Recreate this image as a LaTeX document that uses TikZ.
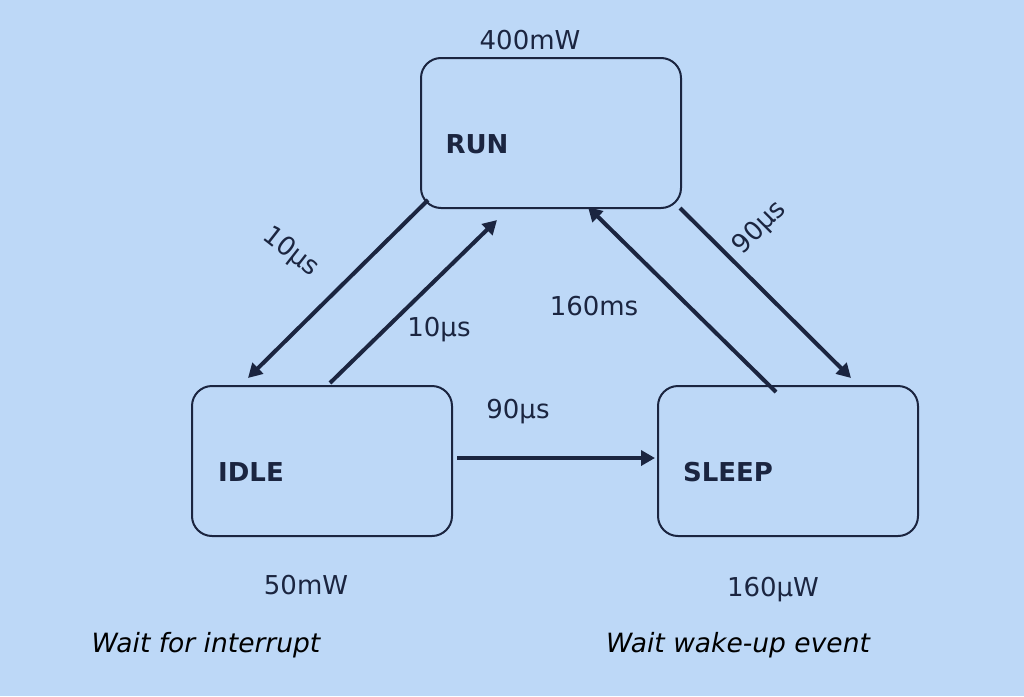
\documentclass[tikz,border=0pt]{standalone}
\usepackage{fontspec}
\setmainfont{DejaVu Sans}
\usetikzlibrary{arrows.meta}
\definecolor{bg}{HTML}{BDD8F7}
\definecolor{ink}{HTML}{1B2540}
\begin{document}
\begin{tikzpicture}[x=1pt,y=-1pt,
  state/.style={draw=ink,line width=2pt,rounded corners=20pt,minimum width=260pt,minimum height=150pt,anchor=north west},
  lbl/.style={font=\fontsize{26}{30}\selectfont,text=ink,inner sep=1pt},
  blbl/.style={font=\fontsize{26}{30}\selectfont\bfseries,text=ink},
  ilbl/.style={font=\fontsize{26.5}{30}\selectfont\itshape,text=black},
  arr/.style={draw=ink,line width=4pt,-{Triangle[length=14pt,width=15pt]}}]
\fill[bg] (0,0) rectangle (1024,696);
\useasboundingbox (0,0) rectangle (1024,696);
\node[state] (run) at (420,57) {};
\node[state] (idle) at (191,385) {};
\node[state] (sleep) at (657,385) {};
\node[blbl] (tr) at (477,144) {RUN};
\node[blbl] (ti) at (251,472) {IDLE};
\node[blbl] (ts) at (728,472) {SLEEP};
\coordinate (a1) at (428,200); \coordinate (b1) at (248,378);
\coordinate (a2) at (330,383); \coordinate (b2) at (497,220);
\coordinate (a3) at (457,458); \coordinate (b3) at (655,458);
\coordinate (a4) at (776,392); \coordinate (b4) at (588,207);
\coordinate (a5) at (680,208); \coordinate (b5) at (851,378);
\draw[arr] (a1) -- (b1);
\draw[arr] (a2) -- (b2);
\draw[arr] (a3) -- (b3);
\draw[arr] (a4) -- (b4);
\draw[arr] (a5) -- (b5);
\node[lbl,rotate=-38] (l1) at (291,252) {10μs};
\node[lbl] (l2) at (439,330) {10μs};
\node[lbl] (l3) at (518,412) {90μs};
\node[lbl] (l4) at (594,306) {160ms};
\node[lbl,rotate=45] (l5) at (760,228) {90μs};
\node[lbl] (p1) at (530,40) {400mW};
\node[lbl] (p2) at (306,585) {50mW};
\node[lbl] (p3) at (773,590) {160μW};
\node[ilbl] (w1) at (206,645) {Wait for interrupt};
\node[ilbl] (w2) at (738,645) {Wait wake-up event};
\end{tikzpicture}
\end{document}
